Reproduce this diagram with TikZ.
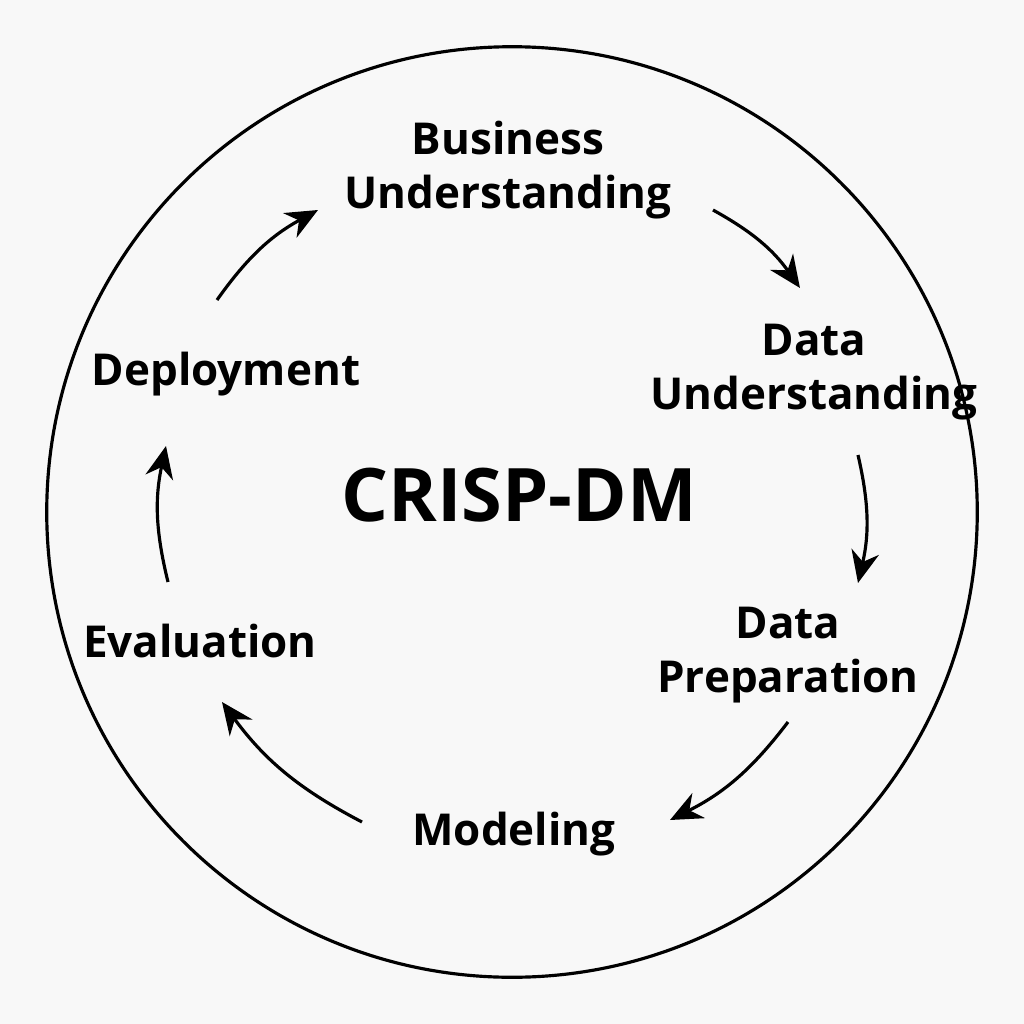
\documentclass[tikz,border=0pt]{standalone}
\usepackage{fontspec}
\setmainfont{Open Sans}
\usetikzlibrary{arrows.meta, positioning}
\definecolor{paper}{HTML}{F8F8F8}
\tikzset{
  phase/.style = {
    align=center,
    font=\fontsize{12.5}{15.2}\selectfont\bfseries,
    inner sep=0pt,
  },
  flow/.style = {
    -{Stealth[length=3.2mm, width=2.8mm]},
    line width=.9pt,
    bend left=13,
  },
}
\begin{document}
\begin{tikzpicture}[x=0.01cm, y=-0.01cm]
\fill[paper] (0,0) rectangle (1024,1024);
\useasboundingbox (0,0) rectangle (1024,1024);

\node(Cycle)[draw, circle, line width=.9pt, minimum size=9.3cm] at (512,512) {};

\node(Title)[phase, font=\fontsize{21}{24}\selectfont\bfseries] at (519,495) {CRISP-DM};

\node(Business)[phase] at (508,170) {Business\\Understanding};
\node(DataU)[phase] at (814,372) {Data\\Understanding};
\node(DataP)[phase] at (788,655) {Data\\Preparation};
\node(Modeling)[phase] at (514,834) {Modeling};
\node(Evaluation)[phase] at (200,641) {Evaluation};
\node(Deployment)[phase] at (226,374) {Deployment};

% arrow ends
\coordinate (a1) at (217,300); \coordinate (b1) at (318,210);
\coordinate (a2) at (713,210); \coordinate (b2) at (800,288);
\coordinate (a3) at (858,455); \coordinate (b3) at (858,583);
\coordinate (a4) at (788,722); \coordinate (b4) at (670,820);
\coordinate (a5) at (362,822); \coordinate (b5) at (222,702);
\coordinate (a6) at (168,582); \coordinate (b6) at (166,446);

\draw[flow] (a1) to (b1);
\draw[flow] (a2) to (b2);
\draw[flow] (a3) to (b3);
\draw[flow] (a4) to (b4);
\draw[flow] (a5) to (b5);
\draw[flow] (a6) to (b6);

\end{tikzpicture}
\end{document}
